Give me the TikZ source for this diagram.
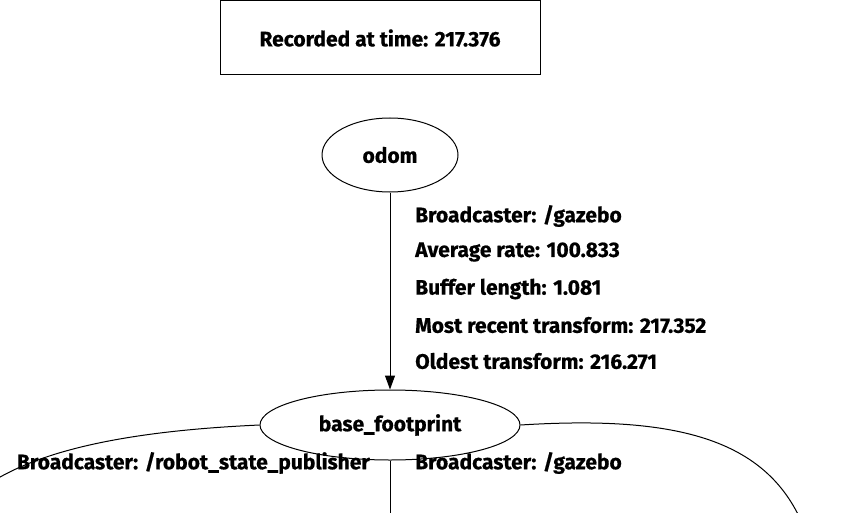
\documentclass[tikz,border=0pt]{standalone}
\usepackage{fontspec}
\setmainfont{Fira Sans}[FakeBold=0.6]
\usetikzlibrary{arrows.meta,shapes.geometric}
\begin{document}
\begin{tikzpicture}[x=1pt,y=1pt,
  lbl/.style={font=\fontsize{21}{24}\selectfont\bfseries, inner sep=0pt},
  edge/.style={line width=1pt}]
\useasboundingbox (0,0) rectangle (842,-513);
\clip (0,0) rectangle (842,-513);
\node[draw, line width=1pt, minimum width=320, minimum height=74, lbl] (rec) at (380,-38) {Recorded at time: 217.376};
\node[draw, ellipse, line width=1pt, minimum width=136, minimum height=74, lbl] (odom) at (390,-155) {odom};
\node[draw, ellipse, line width=1pt, minimum width=260, minimum height=70, lbl] (base) at (390,-425) {base\_footprint};
\draw[edge, -{Triangle[length=14pt,width=10pt]}] (odom) -- (base);
\node[lbl, anchor=west] (l1) at (415,-216) {Broadcaster: /gazebo};
\node[lbl, anchor=west] (l2) at (415,-252) {Average rate: 100.833};
\node[lbl, anchor=west] (l3) at (415,-289) {Buffer length: 1.081};
\node[lbl, anchor=west] (l4) at (415,-325) {Most recent transform: 217.352};
\node[lbl, anchor=west] (l5) at (415,-361) {Oldest transform: 216.271};
\coordinate (lend) at (-20,-490);
\coordinate (rend) at (805,-530);
\coordinate (dend) at (390,-530);
\draw[edge] (base.west) .. controls (150,-430) and (40,-445) .. (lend);
\draw[edge] (base.east) .. controls (680,-415) and (770,-440) .. (rend);
\draw[edge] (base.south) -- (dend);
\node[lbl, anchor=east] (r1) at (370,-463) {Broadcaster: /robot\_state\_publisher};
\node[lbl, anchor=west] (r2) at (415,-463) {Broadcaster: /gazebo};
\end{tikzpicture}
\end{document}
